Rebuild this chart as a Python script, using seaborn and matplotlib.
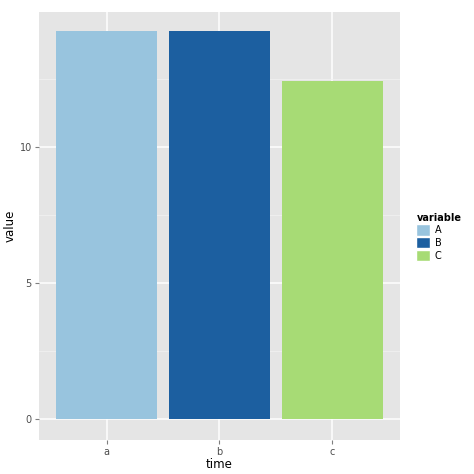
import pandas as pd
import seaborn as sns
import matplotlib.pyplot as plt
from matplotlib.patches import Patch

time = ['a', 'b', 'c']
variable = ['A', 'B', 'C']
value = [14.25, 14.25, 12.4]
colors = ['#98c4de', '#1c5fa0', '#a7db75']

df = pd.DataFrame({'time': time, 'variable': variable, 'value': value})

fig = plt.figure(figsize=(4.74, 4.74), dpi=100)
ax = fig.add_axes([0.082, 0.072, 0.762, 0.903])
ax.set_facecolor('#e5e5e5')
sns.barplot(data=df, x='time', y='value', hue='variable', palette=colors,
            dodge=False, width=0.9, legend=False, ax=ax, saturation=1)

ax.set_ylim(-0.75, 14.95)
ax.set_xlim(-0.6, 2.6)
ax.set_yticks([0, 5, 10])
ax.set_yticks([2.5, 7.5, 12.5], minor=True)
ax.grid(True, which='major', color='white', linewidth=1.1)
ax.grid(True, which='minor', color='#f2f2f2', linewidth=0.5)
ax.set_axisbelow(True)
for s in ax.spines.values():
    s.set_visible(False)
ax.tick_params(which='both', length=3, pad=2, color='#7f7f7f', labelsize=7, labelcolor='#4d4d4d')
ax.tick_params(which='minor', length=0)
ax.set_xlabel('time', fontsize=8.5, labelpad=1)
ax.set_ylabel('value', fontsize=8.5, labelpad=2)

handles = [Patch(facecolor=c, edgecolor='white', label=v) for v, c in zip(variable, colors)]
leg = fig.legend(handles=handles, title='variable', loc='center left',
                 bbox_to_anchor=(0.86, 0.5), frameon=False, fontsize=7,
                 title_fontsize=7, handlelength=1.4, handleheight=1.4,
                 handletextpad=0.5, labelspacing=0.15)
leg.get_title().set_fontweight('bold')
leg._legend_box.align = 'left'

fig.savefig('out.png', dpi=100)
